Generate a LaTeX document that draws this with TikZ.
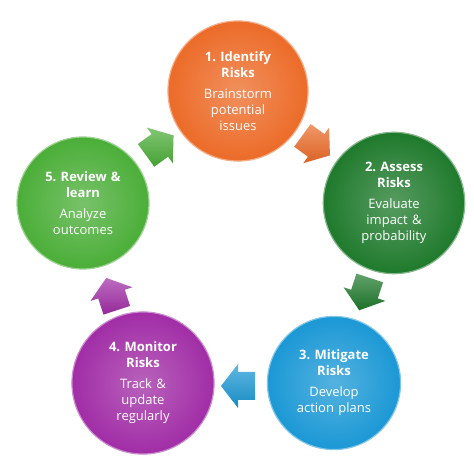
\documentclass[tikz,border=0pt]{standalone}
\usepackage{fontspec}
\setmainfont{Open Sans}
\usetikzlibrary{calc}
\definecolor{corange}{HTML}{EC6B28}
\definecolor{cdgreen}{HTML}{1F7A2C}
\definecolor{cblue}{HTML}{1B98D5}
\definecolor{cpurple}{HTML}{A12DA6}
\definecolor{clgreen}{HTML}{4BAE38}
\frenchspacing
\tikzset{
  stage/.style={circle, minimum size=126pt, inner sep=0pt, text=white,
    text width=116pt, align=center, font=\fontsize{13}{16}\selectfont,
    inner color=#1!75!white, outer color=#1, draw=#1!55!white, line width=1.2pt}
}
\newcommand{\blockarrow}[3]{%
  \shade[shift={#1}, rotate=#2, top color=#3!70!white, bottom color=#3!92!black]
    (-17,14) -- (0,14) -- (0,22) -- (17,0) -- (0,-22) -- (0,-14) -- (-17,-14) -- cycle;}
\newcommand{\stagetext}[2]{{\bfseries #1}\\[5pt]#2}
\begin{document}
\begin{tikzpicture}[x=1pt,y=1pt]
\useasboundingbox[fill=white] (0,0) rectangle (474,474);
\coordinate (o) at (238,221);
\node[stage=corange] (c1) at (238,383) {\stagetext{1. Identify\\Risks}{Brainstorm\\potential\\issues}};
\node[stage=cdgreen] (c2) at (394,271) {\stagetext{2. Assess\\Risks}{Evaluate\\impact \&\\probability}};
\node[stage=cblue] (c3) at (334,91) {\stagetext{3. Mitigate\\Risks}{Develop\\action plans}};
\node[stage=cpurple] (c4) at (143,91) {\stagetext{4. Monitor\\Risks}{Track \&\\update\\regularly}};
\node[stage=clgreen] (c5) at (83,271) {\stagetext{5. Review \&\\learn}{Analyze\\outcomes}};
\blockarrow{($(o)+(54:133)$)}{-36}{corange}
\blockarrow{($(o)+(-18:133)$)}{-108}{cdgreen}
\blockarrow{($(o)+(-90:133)$)}{180}{cblue}
\blockarrow{($(o)+(-162:133)$)}{108}{cpurple}
\blockarrow{($(o)+(126:133)$)}{36}{clgreen}
\end{tikzpicture}
\end{document}
